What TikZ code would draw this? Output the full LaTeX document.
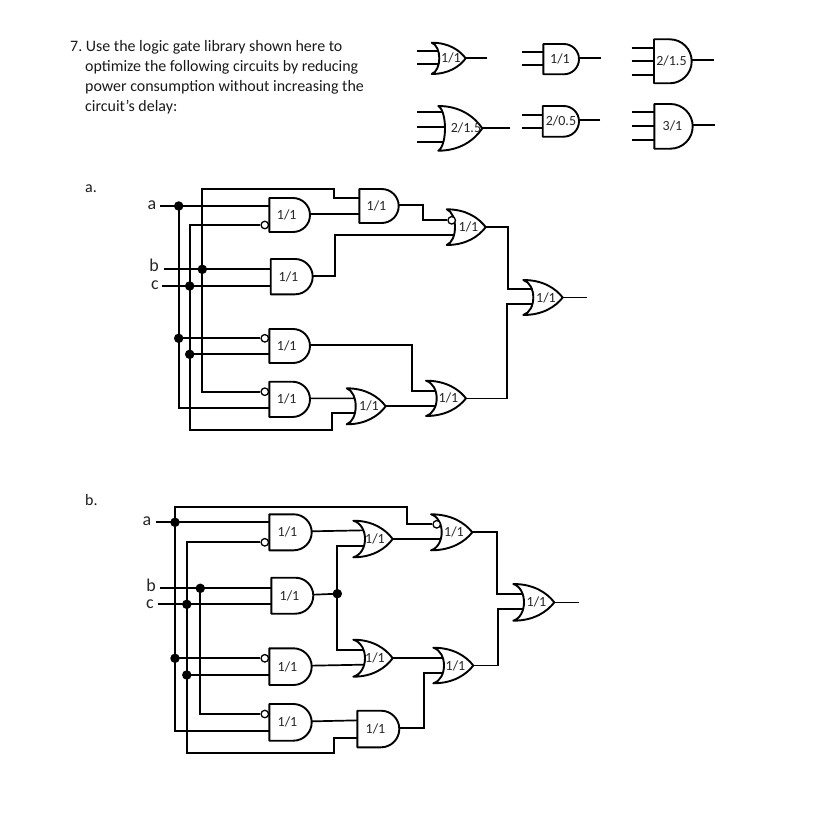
\documentclass[tikz,border=0pt]{standalone}
\usepackage{fontspec}
\setmainfont{Carlito}
\usetikzlibrary{calc,backgrounds}
\tikzset{
  gatebody/.style={draw=black,fill=white,line width=1.9pt,line join=round},
  wire/.style={draw=black,line width=1.7pt},
  dotnode/.style={circle,fill=black,draw=none,minimum size=9.5pt,inner sep=0pt},
  bubble/.style={circle,fill=white,draw=black,line width=1.3pt,minimum size=7.5pt,inner sep=0pt},
  glabel/.style={font=\fontsize{14}{15}\selectfont,inner sep=0pt,text=black!85},
  inlabel/.style={font=\fontsize{18}{19}\selectfont,inner sep=0pt,text=black!85},
  para/.style={font=\fontsize{15.95}{17}\selectfont\frenchspacing,anchor=base west,inner sep=0pt,text=black!90},
}
% name, left, top, bottom, right, label x, label, pin ys
\newcommand{\AndGate}[8]{%
  \pgfmathsetmacro{\rr}{(#4-#3)/2}
  \pgfmathsetmacro{\mx}{#5-\rr}
  \pgfmathsetmacro{\ym}{(#3+#4)/2}
  \pgfmathsetmacro{\cx}{\mx+0.5523*\rr}
  \pgfmathsetmacro{\cya}{\ym-0.5523*\rr}
  \pgfmathsetmacro{\cyb}{\ym+0.5523*\rr}
  \path[gatebody] (#2,#3) -- (\mx,#3) .. controls (\cx,#3) and (#5,\cya) .. (#5,\ym)
     .. controls (#5,\cyb) and (\cx,#4) .. (\mx,#4) -- (#2,#4) -- cycle;
  \node[glabel] (#1) at (#6,\ym) {#7};
  \coordinate (#1-o) at (#5,\ym-1);
  \foreach \yy [count=\ii] in {#8} {\coordinate (#1-\ii) at (#2,\yy);}
}
% name, tip x, top, bottom, back x, nose x, label x, label, pin ys
\newcommand{\OrGate}[9]{%
  \pgfmathsetmacro{\ym}{(#3+#4)/2}
  \pgfmathsetmacro{\hh}{#4-#3}
  \pgfmathsetmacro{\ww}{#6-#2}
  \pgfmathsetmacro{\ca}{#2+0.5*\ww}
  \pgfmathsetmacro{\cb}{#2+0.82*\ww}
  \pgfmathsetmacro{\cyA}{#3}
  \pgfmathsetmacro{\cyB}{#3+0.24*\hh}
  \pgfmathsetmacro{\cyC}{#4-0.24*\hh}
  \pgfmathsetmacro{\cyD}{#4}
  \pgfmathsetmacro{\bx}{#5+(#5-#2)/3}
  \pgfmathsetmacro{\byA}{#3+0.12*\hh}
  \pgfmathsetmacro{\byB}{#4-0.12*\hh}
  \path[gatebody] (#2,#3) .. controls (\ca,\cyA) and (\cb,\cyB) .. (#6,\ym)
     .. controls (\cb,\cyC) and (\ca,\cyD) .. (#2,#4)
     .. controls (\bx,\byB) and (\bx,\byA) .. cycle;
  \node[glabel] (#1) at (#7,\ym) {#8};
  \coordinate (#1-o) at (#6,\ym);
  \foreach \yy [count=\ii] in {#9} {\coordinate (#1-\ii) at (#5,\yy);}
}
% free wire end: pin, dx
\newcommand{\Stub}[2]{%
  \path (#1) ++(#2,0) coordinate (#1-end);
  \draw[wire] (#1-end) -- (#1);
}
\begin{document}
\begin{tikzpicture}[x=1pt,y=-1pt]
\useasboundingbox (0,0) rectangle (818,824);

% ---------- question text
\node[para] (q1) at (70,51.5) {7. Use the logic gate library shown here to};
\node[para] (q2) at (85,71.5) {optimize the following circuits by reducing};
\node[para] (q3) at (85,91.5) {power consumption without increasing the};
\node[para] (q4) at (85,111.5) {circuit’s delay:};
\node[para] (pa) at (85,192) {a.};
\node[para] (pb) at (85,505) {b.};

% ---------- library
\OrGate{l1}{431.7}{42.7}{74}{439.3}{465.7}{451}{1/1}{50.7,64}
\AndGate{l2}{543.3}{44}{74.3}{579}{560}{1/1}{52,65.3}
\AndGate{l3}{654}{39.3}{83.3}{691.7}{671.5}{2/1.5}{47.7,61.3,75}
\OrGate{l4}{438.3}{106}{150.7}{445}{482.3}{466}{2/1.5}{112,127,141.7}
\AndGate{l5}{542.7}{106}{136.7}{579}{561}{2/0.5}{115,128.3}
\AndGate{l6}{654.3}{104}{148.7}{692.7}{672.5}{3/1}{112.3,126,140}

% ---------- circuit a
\AndGate{g1}{269.3}{198}{232}{310}{286.7}{1/1}{206,225}
\AndGate{g2}{270.7}{259}{294.3}{312.7}{288.5}{1/1}{269.3,286}
\AndGate{g3}{269.3}{329}{363}{310}{286.7}{1/1}{338.3,354.3}
\AndGate{g4}{269.3}{381.7}{417}{310}{286.7}{1/1}{391.7,407.7}
\AndGate{gt}{359.3}{189}{223}{398.7}{376.5}{1/1}{198.3,214}
\OrGate{ot}{446.7}{209.3}{245}{455}{485.7}{468.5}{1/1}{220.3,235.3}
\OrGate{o4}{346.7}{388.3}{424.3}{355.7}{385.7}{369}{1/1}{398.35,413}
\OrGate{o5}{426}{380.7}{416}{436.7}{466}{448.5}{1/1}{390.7,406.3}
\OrGate{o6}{523.3}{280}{315}{533.3}{562.7}{546}{1/1}{289,303.7}

\node[bubble] (bg1) at ($(g1-2)+(-4.5,0)$) {};
\node[bubble] (bg3) at ($(g3-1)+(-4.5,0)$) {};
\node[bubble] (bg4) at ($(g4-1)+(-4.5,0)$) {};
\node[bubble] (bot) at ($(ot-1)+(-3.3,0)$) {};

\node[dotnode] (da1) at (178.7,206) {};
\node[dotnode] (da2) at (178.7,338.3) {};
\node[dotnode] (db1) at (202.3,269.3) {};
\node[dotnode] (dc1) at (189.7,286) {};
\node[dotnode] (dc2) at (189.7,354.3) {};

\node[inlabel] (la) at (152,205) {a};
\node[inlabel] (lb) at (154,265.5) {b};
\node[inlabel] (lc) at (155,285) {c};
\coordinate (sa) at (160,206);
\coordinate (sb) at (164,269.3);
\coordinate (sc) at (162,286);

% ---------- circuit b
\AndGate{b1}{269.3}{514.3}{550.3}{311.7}{287.5}{1/1}{522.3,542.3}
\AndGate{b2}{271.3}{577.7}{613.7}{313.3}{289.5}{1/1}{588.3,604.3}
\AndGate{b3}{269.3}{648.3}{685}{311.7}{287.5}{1/1}{658.3,675}
\AndGate{b4}{269.3}{704}{740.7}{311.7}{287.5}{1/1}{714,731}
\AndGate{b5}{357.3}{710.7}{747.3}{399.3}{375.5}{1/1}{720.35,737.7}
\OrGate{u1}{353.3}{520.7}{557.3}{365}{392.7}{375}{1/1}{530.3,546}
\OrGate{u2}{431}{514.3}{550.3}{441.7}{472.3}{454}{1/1}{524.3,539}
\OrGate{um}{353.3}{639.7}{676.7}{365}{392.7}{375}{1/1}{650,664.65}
\OrGate{ul}{433.3}{647.7}{683.3}{444}{473.3}{455.5}{1/1}{658.2,673.3}
\OrGate{uo}{513.3}{584}{620.7}{524}{554.3}{536.5}{1/1}{594.3,609}

\node[bubble] (bb1) at ($(b1-2)+(-4.5,0)$) {};
\node[bubble] (bb3) at ($(b3-1)+(-4.5,0)$) {};
\node[bubble] (bb4) at ($(b4-1)+(-4.5,0)$) {};
\node[bubble] (bu2) at ($(u2-1)+(-5,0)$) {};

\node[dotnode] (ea1) at (175,522.3) {};
\node[dotnode] (ea2) at (175,658.3) {};
\node[dotnode] (eb1) at (200.3,588.3) {};
\node[dotnode] (ec1) at (186.8,604.3) {};
\node[dotnode] (ec2) at (186.8,675) {};
\node[dotnode] (ed) at (337.3,593.7) {};

\node[inlabel] (ma) at (147,521) {a};
\node[inlabel] (mb) at (151,585) {b};
\node[inlabel] (mc) at (150,604) {c};
\coordinate (ta) at (156,522.3);
\coordinate (tb) at (160,588.3);
\coordinate (tc) at (158,604.3);

\begin{scope}[on background layer]
  % library stubs
  \Stub{l1-1}{-22}\Stub{l1-2}{-22}\Stub{l1-o}{21.6}
  \Stub{l2-1}{-21}\Stub{l2-2}{-21}\Stub{l2-o}{21.7}
  \Stub{l3-1}{-22.3}\Stub{l3-2}{-22.3}\Stub{l3-3}{-22.3}\Stub{l3-o}{22.3}
  \Stub{l4-1}{-27.7}\Stub{l4-2}{-27.7}\Stub{l4-3}{-27.7}\Stub{l4-o}{27.7}
  \Stub{l5-1}{-20.7}\Stub{l5-2}{-20.7}\Stub{l5-o}{21}
  \Stub{l6-1}{-22.3}\Stub{l6-2}{-22.3}\Stub{l6-3}{-22.3}\Stub{l6-o}{22.3}

  % circuit a
  \draw[wire] (sa) -- (g1-1);
  \draw[wire] (sb) -- (g2-1);
  \draw[wire] (sc) -- (g2-2);
  \draw[wire] (da1.center) |- (g4-2);
  \draw[wire] (da2.center) -- (bg3.west);
  \draw[wire] (dc2.center) -- (g3-2);
  \draw[wire] (bg4.west) -| (202.3,189) -| (334,198.3) -- (gt-1);
  \draw[wire] (bg1.west) -| (189.7,429.7) -| (332,413) -- (o4-2);
  \draw[wire] (g1-o) -- (gt-2);
  \draw[wire] (gt-o) -| (423.3,220.3) -- (bot.west);
  \draw[wire,line width=2pt] (g2-o) -| (335,235.3) -- (ot-2);
  \draw[wire] (g3-o) -| (412.3,390.7) -- (o5-1);
  \draw[wire] (g4-o) -- (o4-1);
  \draw[wire] (o4-o) -- (o5-2);
  \draw[wire] (o5-o) -| (507.3,303.7) -- (o6-2);
  \draw[wire] (ot-o) -| (508.3,289) -- (o6-1);
  \Stub{o6-o}{24.6}

  % circuit b
  \draw[wire] (ta) -- (b1-1);
  \draw[wire] (tb) -- (b2-1);
  \draw[wire] (tc) -- (b2-2);
  \draw[wire] (bu2.west) -| (407.3,506.7) -| (175,731) -- (b4-2);
  \draw[wire] (ea2.center) -- (bb3.west);
  \draw[wire] (ec2.center) -- (b3-2);
  \draw[wire] (bb1.west) -| (186.8,753.3) -| (334,737.7) -- (b5-2);
  \draw[wire] (eb1.center) |- (bb4.west);
  \draw[wire] (b1-o) -- (u1-1);
  \draw[wire] (b2-o) -- (ed.center);
  \draw[wire] (ed.center) |- (u1-2);
  \draw[wire] (ed.center) |- (um-1);
  \draw[wire] (b3-o) -- (um-2);
  \draw[wire] (b4-o) -- (b5-1);
  \draw[wire] (b5-o) -| (424,673.3) -- (ul-2);
  \draw[wire] (u1-o) -- (u2-2);
  \draw[wire] (um-o) -- (ul-1);
  \draw[wire] (u2-o) -| (496.7,594.3) -- (uo-1);
  \draw[wire] (ul-o) -| (498.3,609) -- (uo-2);
  \Stub{uo-o}{24.7}
\end{scope}
\end{tikzpicture}
\end{document}
